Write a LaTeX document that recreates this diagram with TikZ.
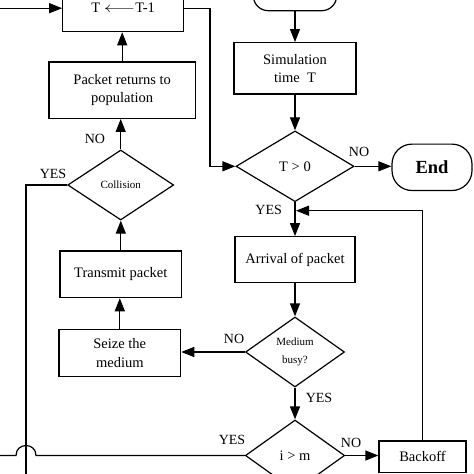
\documentclass[tikz,border=0pt]{standalone}
\usepackage{fontspec}
\setmainfont{Liberation Serif}
\usetikzlibrary{shapes.geometric,arrows.meta}
\begin{document}
\begin{tikzpicture}[x=1pt,y=-1pt,
  line width=1.2pt,
  box/.style={draw, rectangle, inner sep=0pt, align=center, font=\fontsize{14.5}{18.5}\selectfont},
  dia/.style={draw, diamond, inner sep=0pt, align=center, font=\fontsize{14.5}{18.5}\selectfont},
  small/.style={font=\fontsize{11}{17.5}\selectfont},
  term/.style={draw, rectangle, rounded corners=15pt, inner sep=0pt},
  lbl/.style={font=\fontsize{14}{16}\selectfont, inner sep=0pt},
  arr/.style={-{Triangle[length=13pt,width=10pt]}},
]
\useasboundingbox (0,0) rectangle (474,474);
\clip (0,0) rectangle (474,474);

% right column
\node[term, minimum width=83.4pt, minimum height=32pt] (start) at (295,-5.3) {};
\node[box, minimum width=122pt, minimum height=51.3pt] (sim) at (295,68.3) {Simulation\\time\ \ T};
\node[dia, minimum width=118pt, minimum height=70.7pt] (tgt) at (295,166.3) {T > 0};
\node[term, rounded corners=20pt, minimum width=80pt, minimum height=46.4pt, font=\fontsize{18.5}{20}\selectfont\bfseries] (end) at (432,167.3) {End};
\node[box, minimum width=120pt, minimum height=46pt] (arrival) at (295,259.7) {Arrival of packet};
\node[dia, small, minimum width=99pt, minimum height=70pt] (busy) at (295,352) {Medium\\busy?};
\node[dia, minimum width=99.3pt, minimum height=71pt] (imx) at (295,455.5) {i > m};
\node[box, minimum width=87pt, minimum height=31.5pt] (backoff) at (422.5,456.8) {Backoff};

% left column
\node[box, minimum width=121pt, minimum height=47pt] (tbox) at (123.2,8.2) {T\ \scalebox{1.35}[1]{$\longleftarrow$}T-1};
\node[box, minimum width=146.3pt, minimum height=56.3pt] (packet) at (122.2,90.2) {Packet returns to\\population};
\node[dia, small, minimum width=106pt, minimum height=70pt] (coll) at (120.7,185) {Collision};
\node[box, minimum width=121.7pt, minimum height=46.7pt] (transmit) at (120.8,274.3) {Transmit packet};
\node[box, minimum width=121.7pt, minimum height=46.6pt] (seize) at (119.8,353) {Seize the\\medium};

% labels
\node[lbl] (no1) at (359,152) {NO};
\node[lbl] (yes1) at (268.7,209.5) {YES};
\node[lbl] (no2) at (234,339) {NO};
\node[lbl] (yes2) at (319,398) {YES};
\node[lbl] (no3) at (351,443) {NO};
\node[lbl] (yes3) at (232,440) {YES};
\node[lbl] (no4) at (95,139) {NO};
\node[lbl] (yes4) at (53,174) {YES};

% coordinates
\coordinate (fb) at (296,210.7);
\coordinate (jr) at (36,455.5);
\coordinate (jl) at (16,455.5);
\coordinate (leftend) at (-5,455.5);
\coordinate (cl) at (26,185);
\coordinate (cbottom) at (26,480);
\coordinate (tr) at (210,8.2);
\coordinate (tin) at (-5,8.2);

% connectors
\draw[arr] (start.south) -- (sim.north);
\draw[arr] (sim.south) -- (tgt.north);
\draw[arr] (tgt.east) -- (tgt.east -| end.west);
\draw[arr] (tgt.south) -- (arrival.north);
\draw[arr] (backoff.north) |- (fb);
\draw[arr] (arrival.south) -- (busy.north);
\draw[arr] (busy.west) -- (busy.west -| seize.east);
\draw[arr] (busy.south) -- (imx.north);
\draw[arr] (imx.east) -- (imx.east -| backoff.west);
\draw (imx.west) -- (jr) .. controls (36,442.2) and (16,442.2) .. (jl) -- (leftend);
\draw[arr] (seize.north) -- (seize.north |- transmit.south);
\draw[arr] (transmit.north) -- (transmit.north |- coll.south);
\draw[arr] (coll.north) -- (coll.north |- packet.south);
\draw[arr] (packet.north) -- (packet.north |- tbox.south);
\draw (coll.west) -- (cl) -- (cbottom);
\draw[arr] (tbox.east) -- (tr) |- (tgt.west);
\draw[arr] (tin) -- (tbox.west);
\end{tikzpicture}
\end{document}
